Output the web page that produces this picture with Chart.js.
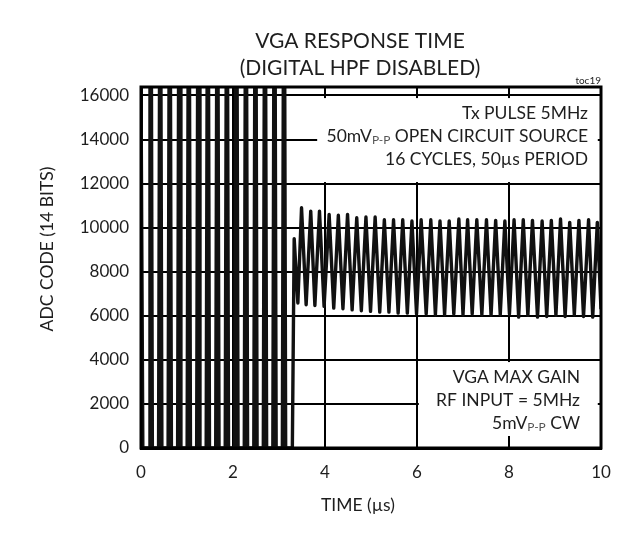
<!DOCTYPE html>
<html lang="en">
<head>
    <meta charset="UTF-8">
    <title>VGA Response Time</title>
    <style>
        body {
            margin: 0;
            background: #fff;
        }
        #wrap {
            width: 640px;
            height: 539px;
        }
    </style>
    <script src="https://cdn.jsdelivr.net/npm/chart.js"></script>
</head>
<body>
    <div id="wrap">
        <canvas id="vgaChart" width="640" height="539"></canvas>
    </div>
    <script>
        // burst part: 16 saturated cycles, clipped flat at 0 and 16383 (times in us)
        const burstTimes = [0, 0.020, 0.040,
                            0.175, 0.195, 0.227, 0.247,   0.382, 0.402, 0.434, 0.454,
                            0.589, 0.609, 0.641, 0.661,   0.796, 0.816, 0.848, 0.868,
                            1.003, 1.023, 1.055, 1.075,   1.210, 1.230, 1.262, 1.282,
                            1.417, 1.437, 1.469, 1.489,   1.624, 1.644, 1.676, 1.696,
                            1.831, 1.851, 1.883, 1.903,   2.038, 2.058, 2.090, 2.110,
                            2.245, 2.265, 2.297, 2.317,   2.452, 2.472, 2.504, 2.524,
                            2.659, 2.679, 2.711, 2.731,   2.866, 2.886, 2.918, 2.938,
                            3.073, 3.093, 3.125, 3.145];
        const burstCodes = [16383, 16383, 0,
                            0, 16383, 16383, 0,   0, 16383, 16383, 0,
                            0, 16383, 16383, 0,   0, 16383, 16383, 0,
                            0, 16383, 16383, 0,   0, 16383, 16383, 0,
                            0, 16383, 16383, 0,   0, 16383, 16383, 0,
                            0, 16383, 16383, 0,   0, 16383, 16383, 0,
                            0, 16383, 16383, 0,   0, 16383, 16383, 0,
                            0, 16383, 16383, 0,   0, 16383, 16383, 0,
                            0, 16383, 16383, 0];

        // recovery part: 5MHz CW after the burst (peaks and troughs)
        const ringTimes = [3.29, 3.33, 3.41, 3.49, 3.59, 3.69, 3.78, 3.88, 3.98, 4.09, 4.19, 4.29, 4.39, 4.49, 4.59, 4.69, 4.79,
                           4.89, 4.99, 5.09, 5.19, 5.29, 5.39, 5.49, 5.59, 5.69, 5.79, 5.89, 5.99, 6.09, 6.20, 6.30, 6.40,
                           6.50, 6.60, 6.70, 6.80, 6.91, 7.00, 7.10, 7.20, 7.30, 7.41, 7.51, 7.61, 7.71, 7.81, 7.91, 8.01,
                           8.11, 8.21, 8.31, 8.41, 8.51, 8.62, 8.72, 8.82, 8.92, 9.02, 9.12, 9.22, 9.32, 9.42, 9.52, 9.62,
                           9.73, 9.82, 9.92, 10.0];
        const ringCodes = [0, 9500, 6580, 10900, 6500, 10750, 6470, 10750, 6430, 10600, 6350, 10560, 6320, 10600, 6270, 10450, 6230,
                           10480, 6200, 10480, 6170, 10360, 6170, 10360, 6120, 10360, 6120, 10300, 6080, 10360, 6080, 10360, 6050,
                           10300, 6050, 10300, 6080, 10390, 6050, 10360, 6080, 10360, 6050, 10360, 6020, 10330, 6050, 10300, 6080,
                           10360, 5940, 10360, 6020, 10330, 5940, 10300, 5970, 10330, 6020, 10390, 5970, 10240, 6050, 10330, 5970,
                           10360, 5940, 10240, 6300];

        const xTicks = [0, 2, 4, 6, 8, 10];
        const yTicks = [0, 2000, 4000, 6000, 8000, 10000, 12000, 14000, 16000];

        const titleLines = ['VGA RESPONSE TIME', '(DIGITAL HPF DISABLED)'];
        const topNote = [
            [['Tx PULSE 5MHz', false]],
            [['50mV', false], ['P-P', true], [' OPEN CIRCUIT SOURCE', false]],
            [['16 CYCLES, 50\u00b5s PERIOD', false]]
        ];
        const bottomNote = [
            [['VGA MAX GAIN', false]],
            [['RF INPUT = 5MHz', false]],
            [['5mV', false], ['P-P', true], [' CW', false]]
        ];

        const points = [];
        burstTimes.forEach((t, i) => points.push({ x: t, y: burstCodes[i] }));
        ringTimes.forEach((t, i) => points.push({ x: t, y: ringCodes[i] }));

        const ink = '#1e1e1e';
        const face = 'Lato, "Open Sans", sans-serif';

        // draws a line made of normal + subscript pieces, right aligned
        function richText(ctx, parts, right, y, size) {
            let total = 0;
            parts.forEach(p => {
                ctx.font = (p[1] ? size * 0.68 : size) + 'px ' + face;
                total += ctx.measureText(p[0]).width;
            });
            let x = right - total;
            parts.forEach(p => {
                ctx.font = (p[1] ? size * 0.68 : size) + 'px ' + face;
                ctx.fillStyle = p[1] ? '#555' : ink;
                ctx.fillText(p[0], x, p[1] ? y + 4 : y);
                x += ctx.measureText(p[0]).width;
            });
        }

        const decorations = {
            id: 'decorations',
            beforeDatasetsDraw(chart) {
                const ctx = chart.ctx;
                const xs = chart.scales.x, ys = chart.scales.y;
                ctx.save();
                ctx.fillStyle = '#fff';
                // note boxes hide the grid behind the text
                let l = xs.getPixelForValue(3.83), r = xs.getPixelForValue(9.93);
                let t = ys.getPixelForValue(15880), b = ys.getPixelForValue(12070);
                ctx.fillRect(l, t, r - l, b - t);
                l = xs.getPixelForValue(6.04);
                t = ys.getPixelForValue(3900); b = ys.getPixelForValue(545);
                ctx.fillRect(l, t, r - l, b - t);
                ctx.restore();
            },
            afterDatasetsDraw(chart) {
                const ctx = chart.ctx;
                const a = chart.chartArea;
                ctx.save();
                ctx.strokeStyle = '#000';
                ctx.lineWidth = 3;
                ctx.strokeRect(a.left, a.top, a.right - a.left, a.bottom - a.top);
                ctx.restore();
            },
            afterDraw(chart) {
                const ctx = chart.ctx;
                ctx.save();
                ctx.textBaseline = 'middle';
                ctx.fillStyle = ink;

                ctx.textAlign = 'center';
                ctx.font = '21px ' + face;
                ctx.fillText(titleLines[0], 360, 41);
                ctx.fillText(titleLines[1], 360, 68);

                ctx.font = '10px ' + face;
                ctx.textAlign = 'right';
                ctx.fillText('toc19', 601, 81);

                ctx.textAlign = 'left';
                topNote.forEach((line, i) => richText(ctx, line, 588, 113 + i * 23, 17.5));
                bottomNote.forEach((line, i) => richText(ctx, line, 580, 377 + i * 23, 17.5));

                ctx.fillStyle = ink;
                ctx.textAlign = 'center';
                ctx.font = '17.5px ' + face;
                ctx.fillText('TIME (\u00b5s)', 358, 505);

                ctx.translate(47, 249);
                ctx.rotate(-Math.PI / 2);
                ctx.fillText('ADC CODE (14 BITS)', 0, 0);
                ctx.restore();
            }
        };

        new Chart(document.getElementById('vgaChart').getContext('2d'), {
            type: 'line',
            data: {
                datasets: [{
                    data: points,
                    borderColor: '#111',
                    borderWidth: 3.4,
                    borderJoinStyle: 'round',
                    pointRadius: 0,
                    tension: 0,
                    fill: false
                }]
            },
            options: {
                responsive: false,
                animation: false,
                devicePixelRatio: 1,
                layout: { padding: { top: 87, right: 39, bottom: 0, left: 0 } },
                plugins: {
                    legend: { display: false },
                    tooltip: { enabled: false }
                },
                scales: {
                    x: {
                        type: 'linear',
                        min: 0,
                        max: 10,
                        afterFit(scale) { scale.height = 91; },
                        afterBuildTicks(scale) { scale.ticks = xTicks.map(v => ({ value: v })); },
                        grid: { color: '#000', lineWidth: 2, drawTicks: false },
                        border: { color: '#000', width: 3 },
                        ticks: {
                            padding: 14,
                            color: ink,
                            font: { family: face, size: 17 },
                            callback: v => String(v)
                        }
                    },
                    y: {
                        min: 0,
                        max: 16383,
                        afterFit(scale) { scale.width = 141; },
                        afterBuildTicks(scale) { scale.ticks = yTicks.map(v => ({ value: v })); },
                        grid: { color: '#000', lineWidth: 2, drawTicks: false },
                        border: { color: '#000', width: 3 },
                        ticks: {
                            padding: 12,
                            color: ink,
                            font: { family: face, size: 17 },
                            callback: v => String(v)
                        }
                    }
                }
            },
            plugins: [decorations]
        });
    </script>
</body>
</html>
